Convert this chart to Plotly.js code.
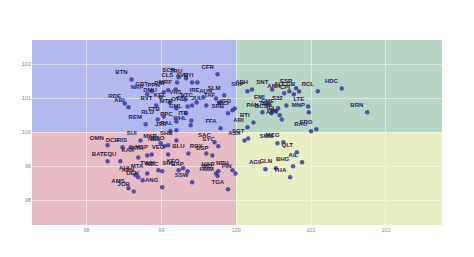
<!DOCTYPE html>
<html>
<head>
<meta charset="utf-8">
<script src="https://cdn.plot.ly/plotly-3.0.1.min.js"></script>
<style>html,body{margin:0;padding:0;background:#fff;}#chart{width:474px;height:257px;}</style>
</head>
<body>
<div id="chart"></div>
<script>
const tickers = ["BTN","GRT","NRP","PPH","DMU","RDE","ABI","BVT","FTB","REM","RLO","PPC","WHL","ITE","GML","MTB","FFA","NTC","SLM","AUN","TAF","SRB","MCI","CFR","TRU","AVB","BYI","SCR","CLS","DSI","MRF","VHS","CTC","KEL","IRE","OTC","JUL","JSR","RAL","IGO",
"SHP","ADH","SNT","ESR","ALL","ANH","CPI","CGB","RCL","HDC","EMI","TSI","CME","OCS","PAN","S32","APT","AIA","IEL","BTI","ARI","LTE","MNP","RAU","SRO","BRN",
"SUI","OMN","DCB","RIS","MKR","NBS","BGO","SHB","KAR","ATH","MSP","VEO","BLU","RBY","DSP","SAC","SYC","BAT","EQU","SHC","KFO","BAP","APN","MTA","DEN","AHL","NEC","TWM","AMS","JOB","ANG","SSW","HAR","IMD","HMM","NPH","PIN","TGA",
"ASX","SGT","SMM","MCG","QLT","AIL","BHG","AGL","GLN","THA"];
const rsRatio = [98.60,98.87,98.81,99.03,98.99,98.51,98.56,98.93,99.03,98.79,98.95,99.20,99.39,99.40,99.33,99.20,99.79,99.47,99.84,99.73,99.77,99.89,99.95,99.75,99.33,99.41,99.48,99.23,99.21,99.09,99.19,99.32,99.41,99.11,99.56,99.35,99.60,99.12,99.20,99.98,
100.15,100.21,100.48,100.80,100.71,100.64,100.77,100.84,101.09,101.41,100.43,100.48,100.56,100.47,100.35,100.67,100.61,100.53,100.58,100.23,100.15,100.96,100.97,101.00,101.07,101.75,
98.72,98.28,98.48,98.59,98.99,99.04,99.09,99.20,98.69,98.81,98.87,99.09,99.36,99.60,99.68,99.71,99.76,98.28,98.45,99.23,99.29,99.35,98.69,98.81,98.75,98.65,99.01,98.96,98.56,98.63,99.01,99.41,99.76,99.73,99.75,99.95,99.99,99.89,
100.11,100.16,100.55,100.63,100.81,100.88,100.76,100.39,100.53,100.72];
const rsMomentum = [101.56,101.21,101.12,101.18,101.03,100.85,100.74,100.79,100.47,100.24,100.38,100.32,100.21,100.35,100.56,100.71,100.12,100.88,101.09,101.00,100.88,100.56,100.65,101.71,101.59,101.47,101.47,101.62,101.47,101.24,101.26,100.97,100.79,100.88,101.03,100.76,100.79,100.03,100.06,100.70,
101.21,101.26,101.26,101.30,101.21,101.15,101.12,101.20,101.21,101.29,100.82,100.65,100.71,100.56,100.59,100.79,100.38,100.62,100.50,100.29,100.15,100.76,100.59,100.03,100.09,100.59,
99.76,99.62,99.56,99.56,99.68,99.59,99.62,99.76,99.26,99.32,99.35,99.35,99.38,99.38,99.32,99.71,99.59,99.15,99.15,98.88,98.94,98.85,98.68,98.79,98.59,98.74,98.85,98.88,98.35,98.26,98.38,98.53,98.85,98.79,98.71,98.88,98.79,98.32,
99.76,99.82,99.68,99.71,99.41,99.12,99.00,98.91,98.94,98.68];
const xTicks = [98,99,100,101,102];
const yTicks = [98,99,100,101,102];
const xRange = [97.27, 102.75];
const yRange = [97.27, 102.72];
const center = 100;

const trace = {
  type: 'scatter', mode: 'markers+text',
  x: rsRatio, y: rsMomentum, text: tickers,
  textposition: 'top left',
  textfont: {family: 'Liberation Sans, Arial, sans-serif', size: 6, color: '#23234a', weight: 'bold'},
  marker: {size: 4.5, color: 'rgba(45,45,155,0.78)'},
  hoverinfo: 'text', cliponaxis: false
};
function rect(x0,x1,y0,y1,c){return {type:'rect',xref:'x',yref:'y',x0:x0,x1:x1,y0:y0,y1:y1,fillcolor:c,line:{width:0},layer:'below'};}
const layout = {
  width: 474, height: 257,
  margin: {l: 32, r: 32, t: 40, b: 32},
  paper_bgcolor: '#fff', plot_bgcolor: '#fff',
  showlegend: false,
  xaxis: {range: xRange, tickvals: xTicks, ticktext: xTicks.map(String), showgrid: true, gridcolor: 'rgba(255,255,255,0.45)', gridwidth: 1, zeroline: false, showline: false, ticks: '', tickfont: {size: 5.5, color: '#8a8a8a', family: 'Liberation Sans, Arial'}},
  yaxis: {range: yRange, tickvals: yTicks, ticktext: yTicks.map(String), showgrid: true, gridcolor: 'rgba(255,255,255,0.45)', gridwidth: 1, zeroline: false, showline: false, ticks: '', tickfont: {size: 5.5, color: '#8a8a8a', family: 'Liberation Sans, Arial'}},
  shapes: [
    rect(xRange[0], center, center, yRange[1], '#b4b8ef'),
    rect(center, xRange[1], center, yRange[1], '#b7d6c6'),
    rect(xRange[0], center, yRange[0], center, '#e8bcc4'),
    rect(center, xRange[1], yRange[0], center, '#e8efc2')
  ]
};
Plotly.newPlot('chart', [trace], layout, {displayModeBar: false, staticPlot: true});
</script>
</body>
</html>
